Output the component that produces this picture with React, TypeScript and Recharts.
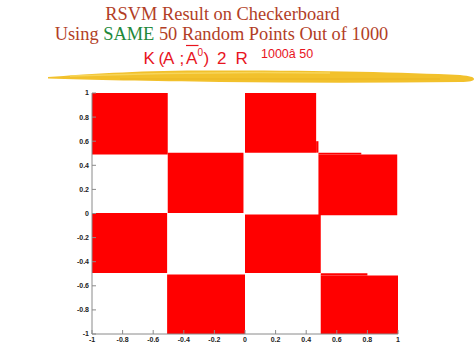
import React from 'react';
import { ComposedChart, XAxis, YAxis, ReferenceArea } from 'recharts';

const tickValues = [-1, -0.8, -0.6, -0.4, -0.2, 0, 0.2, 0.4, 0.6, 0.8, 1];
const axisDomain = [-1, 1];

// red regions of the RSVM decision surface (x1, x2, y1, y2)
const cellX1 = [-1, 0, 0.465, -0.505, 0.48, 0.48, -1, 0, -0.509, 0.495, 0.495];
const cellX2 = [-0.505, 0.465, 0.48, -0.01, 0.995, 0.76, -0.509, 0.495, 0, 1, 0.8];
const cellY1 = [0.49, 0.505, 0.505, 0.005, -0.015, 0.49, -0.493, -0.493, -1, -1, -0.515];
const cellY2 = [1, 1, 0.6, 0.505, 0.49, 0.505, 0.005, -0.008, -0.507, -0.515, -0.495];

const RED = '#ff0000';
const TITLE_COLOR = '#b23e26';
const GREEN = '#22883a';
const FORMULA_RED = '#e8141e';

const tickStyle = { fontSize: 7, fontWeight: 700, fill: '#222', fontFamily: '"Liberation Sans", Arial, sans-serif' };

export default function App() {
  const blank = () => '';
  return (
    <div style={{ position: 'absolute', left: 0, top: 0, width: 474, height: 355, background: '#fff' }}>
      <div style={{ position: 'absolute', left: 0, top: 0 }}>
        <ComposedChart width={474} height={355} margin={{ top: 93, right: 76, bottom: 0, left: 62 }}>
          <XAxis
            type="number"
            dataKey="x"
            domain={axisDomain}
            ticks={tickValues}
            interval={0}
            height={21}
            tickSize={-4}
            tickMargin={7}
            tick={tickStyle}
            stroke="#8a8a8a"
            allowDataOverflow
          />
          <XAxis
            xAxisId="top"
            orientation="top"
            type="number"
            domain={axisDomain}
            ticks={tickValues}
            interval={0}
            height={0}
            tickSize={-4}
            tickFormatter={blank}
            stroke="#8a8a8a"
            allowDataOverflow
          />
          <YAxis
            type="number"
            domain={axisDomain}
            ticks={tickValues}
            interval={0}
            width={30}
            tickSize={-4}
            tickMargin={7}
            tick={tickStyle}
            stroke="#8a8a8a"
            allowDataOverflow
          />
          <YAxis
            yAxisId="right"
            orientation="right"
            type="number"
            domain={axisDomain}
            ticks={tickValues}
            interval={0}
            width={0}
            tickSize={-4}
            tickFormatter={blank}
            stroke="#8a8a8a"
            allowDataOverflow
          />
          {cellX1.map((x1, i) => (
            <ReferenceArea
              key={i}
              x1={x1}
              x2={cellX2[i]}
              y1={cellY1[i]}
              y2={cellY2[i]}
              fill={RED}
              fillOpacity={1}
              stroke="none"
              ifOverflow="extendDomain"
            />
          ))}
        </ComposedChart>
      </div>
      <svg width={474} height={92} style={{ position: 'absolute', left: 0, top: 0, pointerEvents: 'none' }}>
        <path
          d="M48,77 C90,74 130,71 200,70.5 C300,70 400,72 460,75 C470,76 474,77 474,79 C474,81 470,82 460,82 C380,83 300,83 220,82 C150,81 90,80 48,78.5 Z"
          fill="#f2c12c"
        />
        <path d="M70,76 C150,73 260,72 330,73" stroke="#f8d965" strokeWidth={1.5} fill="none" opacity={0.8} />
        <path d="M120,79 C220,78 330,78 440,79" stroke="#e8b220" strokeWidth={1.2} fill="none" opacity={0.7} />
        <text x={222.5} y={19.5} textAnchor="middle" fontFamily='"Liberation Serif", "Times New Roman", serif' fontSize={18.4} fill={TITLE_COLOR}>
          RSVM Result on Checkerboard
        </text>
        <text x={221.5} y={39.5} textAnchor="middle" fontFamily='"Liberation Serif", "Times New Roman", serif' fontSize={18.4} fill={TITLE_COLOR}>
          Using <tspan fill={GREEN}>SAME</tspan> 50 Random Points Out of 1000
        </text>
        <g fontFamily='"Liberation Sans", Arial, sans-serif' fill={FORMULA_RED} fontSize={17}>
          <text x={143.5} y={64}>K</text>
          <text x={158.5} y={64}>(</text>
          <text x={163} y={64}>A</text>
          <text x={179.5} y={64}>;</text>
          <text x={186} y={64}>A</text>
          <line x1={186} x2={198.5} y1={45.5} y2={45.5} stroke={FORMULA_RED} strokeWidth={1.2} />
          <text x={197.5} y={56} fontSize={10}>0</text>
          <text x={203.5} y={64}>)</text>
          <text x={217} y={64}>2</text>
          <text x={235.5} y={64}>R</text>
          <text x={261} y={57.5} fontSize={12.5}>1000â 50</text>
        </g>
      </svg>
    </div>
  );
}
